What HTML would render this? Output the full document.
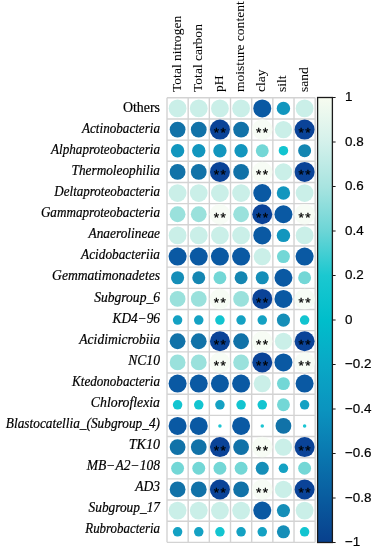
<!DOCTYPE html>
<html><head><meta charset="utf-8"><style>
html,body{margin:0;padding:0;background:#fff;width:377px;height:550px;overflow:hidden}
svg{display:block}
.lb{font-family:"Liberation Serif",serif;font-size:14.3px;fill:#000;stroke:#000;stroke-width:0.2px}
.lc{font-family:"Liberation Serif",serif;font-size:13.3px;fill:#000;stroke:#000;stroke-width:0.05px}
.cl{font-family:"Liberation Sans",sans-serif;font-size:13.4px;fill:#000;stroke:#000;stroke-width:0.2px}
.st{font-family:"Liberation Sans",sans-serif;font-size:13.6px;letter-spacing:1.5px;font-weight:normal;stroke:#000;stroke-width:0.3px;fill:#000;text-anchor:middle}
</style></head><body>
<svg width="377" height="550" viewBox="0 0 377 550">
<path d="M167.00 97.80V542.37M188.17 97.80V542.37M209.34 97.80V542.37M230.51 97.80V542.37M251.68 97.80V542.37M272.85 97.80V542.37M294.02 97.80V542.37M315.19 97.80V542.37M167.00 97.80H315.19M167.00 118.97H315.19M167.00 140.14H315.19M167.00 161.31H315.19M167.00 182.48H315.19M167.00 203.65H315.19M167.00 224.82H315.19M167.00 245.99H315.19M167.00 267.16H315.19M167.00 288.33H315.19M167.00 309.50H315.19M167.00 330.67H315.19M167.00 351.84H315.19M167.00 373.01H315.19M167.00 394.18H315.19M167.00 415.35H315.19M167.00 436.52H315.19M167.00 457.69H315.19M167.00 478.86H315.19M167.00 500.03H315.19M167.00 521.20H315.19M167.00 542.37H315.19" stroke="#D3D3D3" stroke-width="1.4" fill="none"/>
<circle cx="177.59" cy="108.38" r="8.90" fill="#CAEFE8"/>
<circle cx="198.75" cy="108.38" r="8.90" fill="#CAEFE8"/>
<circle cx="219.93" cy="108.38" r="8.90" fill="#CAEFE8"/>
<circle cx="241.09" cy="108.38" r="8.90" fill="#CAEFE8"/>
<circle cx="262.26" cy="108.38" r="9.00" fill="#0A59A3"/>
<circle cx="283.44" cy="108.38" r="6.70" fill="#1296BE"/>
<circle cx="304.61" cy="108.38" r="8.90" fill="#CAEFE8"/>
<circle cx="177.59" cy="129.56" r="7.90" fill="#1172A8"/>
<circle cx="198.75" cy="129.56" r="7.90" fill="#1172A8"/>
<circle cx="219.93" cy="129.56" r="10.00" fill="#0A4398"/>
<circle cx="241.09" cy="129.56" r="7.90" fill="#1172A8"/>
<circle cx="262.26" cy="129.56" r="10.25" fill="#F7FCF5"/>
<circle cx="283.44" cy="129.56" r="8.60" fill="#CAEFE8"/>
<circle cx="304.61" cy="129.56" r="10.00" fill="#0A4398"/>
<circle cx="177.59" cy="150.72" r="6.70" fill="#1296BE"/>
<circle cx="198.75" cy="150.72" r="6.70" fill="#1296BE"/>
<circle cx="219.93" cy="150.72" r="6.70" fill="#1296BE"/>
<circle cx="241.09" cy="150.72" r="6.70" fill="#1296BE"/>
<circle cx="262.26" cy="150.72" r="6.45" fill="#73D7D6"/>
<circle cx="283.44" cy="150.72" r="4.75" fill="#12C4D0"/>
<circle cx="304.61" cy="150.72" r="6.50" fill="#1486B2"/>
<circle cx="177.59" cy="171.89" r="7.90" fill="#1172A8"/>
<circle cx="198.75" cy="171.89" r="7.90" fill="#1172A8"/>
<circle cx="219.93" cy="171.89" r="10.00" fill="#0A4398"/>
<circle cx="241.09" cy="171.89" r="7.90" fill="#1172A8"/>
<circle cx="262.26" cy="171.89" r="10.25" fill="#F7FCF5"/>
<circle cx="283.44" cy="171.89" r="8.60" fill="#CAEFE8"/>
<circle cx="304.61" cy="171.89" r="10.00" fill="#0A4398"/>
<circle cx="177.59" cy="193.06" r="8.90" fill="#CAEFE8"/>
<circle cx="198.75" cy="193.06" r="8.90" fill="#CAEFE8"/>
<circle cx="219.93" cy="193.06" r="8.90" fill="#CAEFE8"/>
<circle cx="241.09" cy="193.06" r="8.90" fill="#CAEFE8"/>
<circle cx="262.26" cy="193.06" r="9.00" fill="#0A59A3"/>
<circle cx="283.44" cy="193.06" r="6.70" fill="#1296BE"/>
<circle cx="304.61" cy="193.06" r="8.90" fill="#CAEFE8"/>
<circle cx="177.59" cy="214.24" r="7.90" fill="#9AE1DC"/>
<circle cx="198.75" cy="214.24" r="7.90" fill="#9AE1DC"/>
<circle cx="219.93" cy="214.24" r="10.25" fill="#F7FCF5"/>
<circle cx="241.09" cy="214.24" r="7.90" fill="#9AE1DC"/>
<circle cx="262.26" cy="214.24" r="10.00" fill="#0A4398"/>
<circle cx="283.44" cy="214.24" r="9.00" fill="#0A59A3"/>
<circle cx="304.61" cy="214.24" r="10.25" fill="#F7FCF5"/>
<circle cx="177.59" cy="235.41" r="8.90" fill="#CAEFE8"/>
<circle cx="198.75" cy="235.41" r="8.90" fill="#CAEFE8"/>
<circle cx="219.93" cy="235.41" r="8.90" fill="#CAEFE8"/>
<circle cx="241.09" cy="235.41" r="8.90" fill="#CAEFE8"/>
<circle cx="262.26" cy="235.41" r="9.00" fill="#0A59A3"/>
<circle cx="283.44" cy="235.41" r="6.70" fill="#1296BE"/>
<circle cx="304.61" cy="235.41" r="8.90" fill="#CAEFE8"/>
<circle cx="177.59" cy="256.57" r="9.00" fill="#0A59A3"/>
<circle cx="198.75" cy="256.57" r="9.00" fill="#0A59A3"/>
<circle cx="219.93" cy="256.57" r="9.00" fill="#0A59A3"/>
<circle cx="241.09" cy="256.57" r="9.00" fill="#0A59A3"/>
<circle cx="262.26" cy="256.57" r="8.60" fill="#CAEFE8"/>
<circle cx="283.44" cy="256.57" r="6.45" fill="#73D7D6"/>
<circle cx="304.61" cy="256.57" r="9.00" fill="#0A59A3"/>
<circle cx="177.59" cy="277.75" r="6.55" fill="#158EB8"/>
<circle cx="198.75" cy="277.75" r="6.50" fill="#1486B2"/>
<circle cx="219.93" cy="277.75" r="6.45" fill="#73D7D6"/>
<circle cx="241.09" cy="277.75" r="6.50" fill="#1486B2"/>
<circle cx="262.26" cy="277.75" r="6.55" fill="#158EB8"/>
<circle cx="283.44" cy="277.75" r="9.00" fill="#0A59A3"/>
<circle cx="304.61" cy="277.75" r="6.45" fill="#73D7D6"/>
<circle cx="177.59" cy="298.92" r="7.90" fill="#9AE1DC"/>
<circle cx="198.75" cy="298.92" r="7.90" fill="#9AE1DC"/>
<circle cx="219.93" cy="298.92" r="10.25" fill="#F7FCF5"/>
<circle cx="241.09" cy="298.92" r="7.90" fill="#9AE1DC"/>
<circle cx="262.26" cy="298.92" r="10.00" fill="#0A4398"/>
<circle cx="283.44" cy="298.92" r="9.00" fill="#0A59A3"/>
<circle cx="304.61" cy="298.92" r="10.25" fill="#F7FCF5"/>
<circle cx="177.59" cy="320.09" r="4.75" fill="#14A1C3"/>
<circle cx="198.75" cy="320.09" r="4.75" fill="#14A1C3"/>
<circle cx="219.93" cy="320.09" r="4.75" fill="#12C4D0"/>
<circle cx="241.09" cy="320.09" r="4.75" fill="#14A1C3"/>
<circle cx="262.26" cy="320.09" r="4.75" fill="#14A1C3"/>
<circle cx="283.44" cy="320.09" r="6.55" fill="#158EB8"/>
<circle cx="304.61" cy="320.09" r="4.75" fill="#12C4D0"/>
<circle cx="177.59" cy="341.25" r="7.90" fill="#1172A8"/>
<circle cx="198.75" cy="341.25" r="7.90" fill="#1172A8"/>
<circle cx="219.93" cy="341.25" r="10.00" fill="#0A4398"/>
<circle cx="241.09" cy="341.25" r="7.90" fill="#1172A8"/>
<circle cx="262.26" cy="341.25" r="10.25" fill="#F7FCF5"/>
<circle cx="283.44" cy="341.25" r="8.60" fill="#CAEFE8"/>
<circle cx="304.61" cy="341.25" r="10.00" fill="#0A4398"/>
<circle cx="177.59" cy="362.43" r="7.90" fill="#9AE1DC"/>
<circle cx="198.75" cy="362.43" r="7.90" fill="#9AE1DC"/>
<circle cx="219.93" cy="362.43" r="10.25" fill="#F7FCF5"/>
<circle cx="241.09" cy="362.43" r="7.90" fill="#9AE1DC"/>
<circle cx="262.26" cy="362.43" r="10.00" fill="#0A4398"/>
<circle cx="283.44" cy="362.43" r="9.00" fill="#0A59A3"/>
<circle cx="304.61" cy="362.43" r="10.25" fill="#F7FCF5"/>
<circle cx="177.59" cy="383.60" r="9.00" fill="#0A59A3"/>
<circle cx="198.75" cy="383.60" r="9.00" fill="#0A59A3"/>
<circle cx="219.93" cy="383.60" r="9.00" fill="#0A59A3"/>
<circle cx="241.09" cy="383.60" r="9.00" fill="#0A59A3"/>
<circle cx="262.26" cy="383.60" r="8.60" fill="#CAEFE8"/>
<circle cx="283.44" cy="383.60" r="6.45" fill="#73D7D6"/>
<circle cx="304.61" cy="383.60" r="9.00" fill="#0A59A3"/>
<circle cx="177.59" cy="404.77" r="4.75" fill="#12C4D0"/>
<circle cx="198.75" cy="404.77" r="4.75" fill="#12C4D0"/>
<circle cx="219.93" cy="404.77" r="4.75" fill="#14A1C3"/>
<circle cx="241.09" cy="404.77" r="4.75" fill="#12C4D0"/>
<circle cx="262.26" cy="404.77" r="4.75" fill="#12C4D0"/>
<circle cx="283.44" cy="404.77" r="6.45" fill="#73D7D6"/>
<circle cx="304.61" cy="404.77" r="4.75" fill="#14A1C3"/>
<circle cx="177.59" cy="425.94" r="9.00" fill="#0A59A3"/>
<circle cx="198.75" cy="425.94" r="9.00" fill="#0A59A3"/>
<circle cx="219.93" cy="425.94" r="1.75" fill="#1CC5D2"/>
<circle cx="241.09" cy="425.94" r="9.00" fill="#0A59A3"/>
<circle cx="262.26" cy="425.94" r="1.75" fill="#1CC5D2"/>
<circle cx="283.44" cy="425.94" r="7.90" fill="#1172A8"/>
<circle cx="304.61" cy="425.94" r="1.75" fill="#1CC5D2"/>
<circle cx="177.59" cy="447.11" r="7.90" fill="#1172A8"/>
<circle cx="198.75" cy="447.11" r="7.90" fill="#1172A8"/>
<circle cx="219.93" cy="447.11" r="10.00" fill="#0A4398"/>
<circle cx="241.09" cy="447.11" r="7.90" fill="#1172A8"/>
<circle cx="262.26" cy="447.11" r="10.25" fill="#F7FCF5"/>
<circle cx="283.44" cy="447.11" r="8.60" fill="#CAEFE8"/>
<circle cx="304.61" cy="447.11" r="10.00" fill="#0A4398"/>
<circle cx="177.59" cy="468.28" r="6.45" fill="#73D7D6"/>
<circle cx="198.75" cy="468.28" r="6.45" fill="#73D7D6"/>
<circle cx="219.93" cy="468.28" r="6.45" fill="#73D7D6"/>
<circle cx="241.09" cy="468.28" r="6.45" fill="#73D7D6"/>
<circle cx="262.26" cy="468.28" r="6.55" fill="#158EB8"/>
<circle cx="283.44" cy="468.28" r="4.75" fill="#14A1C3"/>
<circle cx="304.61" cy="468.28" r="6.45" fill="#73D7D6"/>
<circle cx="177.59" cy="489.45" r="7.90" fill="#1172A8"/>
<circle cx="198.75" cy="489.45" r="7.90" fill="#1172A8"/>
<circle cx="219.93" cy="489.45" r="10.00" fill="#0A4398"/>
<circle cx="241.09" cy="489.45" r="7.90" fill="#1172A8"/>
<circle cx="262.26" cy="489.45" r="10.25" fill="#F7FCF5"/>
<circle cx="283.44" cy="489.45" r="8.60" fill="#CAEFE8"/>
<circle cx="304.61" cy="489.45" r="10.00" fill="#0A4398"/>
<circle cx="177.59" cy="510.62" r="8.90" fill="#CAEFE8"/>
<circle cx="198.75" cy="510.62" r="8.90" fill="#CAEFE8"/>
<circle cx="219.93" cy="510.62" r="8.90" fill="#CAEFE8"/>
<circle cx="241.09" cy="510.62" r="8.90" fill="#CAEFE8"/>
<circle cx="262.26" cy="510.62" r="9.00" fill="#0A59A3"/>
<circle cx="283.44" cy="510.62" r="6.55" fill="#158EB8"/>
<circle cx="304.61" cy="510.62" r="8.90" fill="#CAEFE8"/>
<circle cx="177.59" cy="531.78" r="4.75" fill="#14A1C3"/>
<circle cx="198.75" cy="531.78" r="4.75" fill="#14A1C3"/>
<circle cx="219.93" cy="531.78" r="4.75" fill="#12C4D0"/>
<circle cx="241.09" cy="531.78" r="4.75" fill="#14A1C3"/>
<circle cx="262.26" cy="531.78" r="4.75" fill="#14A1C3"/>
<circle cx="283.44" cy="531.78" r="6.55" fill="#158EB8"/>
<circle cx="304.61" cy="531.78" r="4.75" fill="#12C4D0"/>
<text x="220.53" y="137.16" class="st">**</text>
<text x="262.87" y="137.16" class="st">**</text>
<text x="305.21" y="137.16" class="st">**</text>
<text x="220.53" y="179.49" class="st">**</text>
<text x="262.87" y="179.49" class="st">**</text>
<text x="305.21" y="179.49" class="st">**</text>
<text x="220.53" y="221.84" class="st">**</text>
<text x="262.87" y="221.84" class="st">**</text>
<text x="305.21" y="221.84" class="st">**</text>
<text x="220.53" y="306.52" class="st">**</text>
<text x="262.87" y="306.52" class="st">**</text>
<text x="305.21" y="306.52" class="st">**</text>
<text x="220.53" y="348.86" class="st">**</text>
<text x="262.87" y="348.86" class="st">**</text>
<text x="305.21" y="348.86" class="st">**</text>
<text x="220.53" y="370.03" class="st">**</text>
<text x="262.87" y="370.03" class="st">**</text>
<text x="305.21" y="370.03" class="st">**</text>
<text x="220.53" y="454.71" class="st">**</text>
<text x="262.87" y="454.71" class="st">**</text>
<text x="305.21" y="454.71" class="st">**</text>
<text x="220.53" y="497.05" class="st">**</text>
<text x="262.87" y="497.05" class="st">**</text>
<text x="305.21" y="497.05" class="st">**</text>
<text transform="translate(160,112.17) scale(0.9734,1)" text-anchor="end" class="lb">Others</text>
<text transform="translate(160,133.21) scale(0.9177,1)" text-anchor="end" class="lb" font-style="italic">Actinobacteria</text>
<text transform="translate(160,154.25) scale(0.9196,1)" text-anchor="end" class="lb" font-style="italic">Alphaproteobacteria</text>
<text transform="translate(160,175.29) scale(0.9283,1)" text-anchor="end" class="lb" font-style="italic">Thermoleophilia</text>
<text transform="translate(160,196.32) scale(0.9096,1)" text-anchor="end" class="lb" font-style="italic">Deltaproteobacteria</text>
<text transform="translate(160,217.36) scale(0.9190,1)" text-anchor="end" class="lb" font-style="italic">Gammaproteobacteria</text>
<text transform="translate(160,238.40) scale(0.9352,1)" text-anchor="end" class="lb" font-style="italic">Anaerolineae</text>
<text transform="translate(160,259.43) scale(0.9295,1)" text-anchor="end" class="lb" font-style="italic">Acidobacteriia</text>
<text transform="translate(160,280.47) scale(0.9513,1)" text-anchor="end" class="lb" font-style="italic">Gemmatimonadetes</text>
<text transform="translate(160,301.51) scale(0.9494,1)" text-anchor="end" class="lb" font-style="italic">Subgroup_6</text>
<text transform="translate(160,322.55) scale(0.9314,1)" text-anchor="end" class="lb" font-style="italic">KD4−96</text>
<text transform="translate(160,343.58) scale(0.9472,1)" text-anchor="end" class="lb" font-style="italic">Acidimicrobiia</text>
<text transform="translate(160,364.62) scale(0.9546,1)" text-anchor="end" class="lb" font-style="italic">NC10</text>
<text transform="translate(160,385.66) scale(0.9161,1)" text-anchor="end" class="lb" font-style="italic">Ktedonobacteria</text>
<text transform="translate(160,406.69) scale(0.9646,1)" text-anchor="end" class="lb" font-style="italic">Chloroflexia</text>
<text transform="translate(160,427.73) scale(0.9321,1)" text-anchor="end" class="lb" font-style="italic">Blastocatellia_(Subgroup_4)</text>
<text transform="translate(160,448.77) scale(0.9845,1)" text-anchor="end" class="lb" font-style="italic">TK10</text>
<text transform="translate(160,469.80) scale(0.9481,1)" text-anchor="end" class="lb" font-style="italic">MB−A2−108</text>
<text transform="translate(160,490.84) scale(0.9450,1)" text-anchor="end" class="lb" font-style="italic">AD3</text>
<text transform="translate(160,511.88) scale(0.9343,1)" text-anchor="end" class="lb" font-style="italic">Subgroup_17</text>
<text transform="translate(160,532.91) scale(0.9026,1)" text-anchor="end" class="lb" font-style="italic">Rubrobacteria</text>
<text transform="translate(180.59,92) rotate(-90) scale(1.0200,1)" class="lc">Total nitrogen</text>
<text transform="translate(201.75,92) rotate(-90) scale(1.0200,1)" class="lc">Total carbon</text>
<text transform="translate(222.93,92) rotate(-90) scale(1.0200,1)" class="lc">pH</text>
<text transform="translate(244.09,92) rotate(-90) scale(1.0200,1)" class="lc">moisture content</text>
<text transform="translate(265.26,92) rotate(-90) scale(1.0200,1)" class="lc">clay</text>
<text transform="translate(286.44,92) rotate(-90) scale(1.0200,1)" class="lc">silt</text>
<text transform="translate(307.61,92) rotate(-90) scale(1.0200,1)" class="lc">sand</text>
<defs><linearGradient id="cb" x1="0" y1="0" x2="0" y2="1">
<stop offset="0.000" stop-color="#F7FCF0"/>
<stop offset="0.100" stop-color="#D4F1EB"/>
<stop offset="0.200" stop-color="#A8E4E0"/>
<stop offset="0.300" stop-color="#6CD5D6"/>
<stop offset="0.400" stop-color="#1BC8D0"/>
<stop offset="0.500" stop-color="#00BECB"/>
<stop offset="0.600" stop-color="#09A8C6"/>
<stop offset="0.700" stop-color="#0B94BF"/>
<stop offset="0.800" stop-color="#0A78B0"/>
<stop offset="0.900" stop-color="#095C9F"/>
<stop offset="1.000" stop-color="#08408D"/>
</linearGradient></defs>
<rect x="317.6" y="97.5" width="14.80" height="445.00" fill="url(#cb)" stroke="#1a1a1a" stroke-width="1.3"/>
<path d="M332.40 97.50H335.6M332.40 142.00H335.6M332.40 186.50H335.6M332.40 231.00H335.6M332.40 275.50H335.6M332.40 320.00H335.6M332.40 364.50H335.6M332.40 409.00H335.6M332.40 453.50H335.6M332.40 498.00H335.6M332.40 542.50H335.6" stroke="#1a1a1a" stroke-width="1.2"/>
<text x="345" y="101.20" class="cl">1</text>
<text x="345" y="145.70" class="cl">0.8</text>
<text x="345" y="190.20" class="cl">0.6</text>
<text x="345" y="234.70" class="cl">0.4</text>
<text x="345" y="279.20" class="cl">0.2</text>
<text x="345" y="323.70" class="cl">0</text>
<text x="345" y="368.20" class="cl">−0.2</text>
<text x="345" y="412.70" class="cl">−0.4</text>
<text x="345" y="457.20" class="cl">−0.6</text>
<text x="345" y="501.70" class="cl">−0.8</text>
<text x="345" y="546.20" class="cl">−1</text>
</svg>
</body></html>
